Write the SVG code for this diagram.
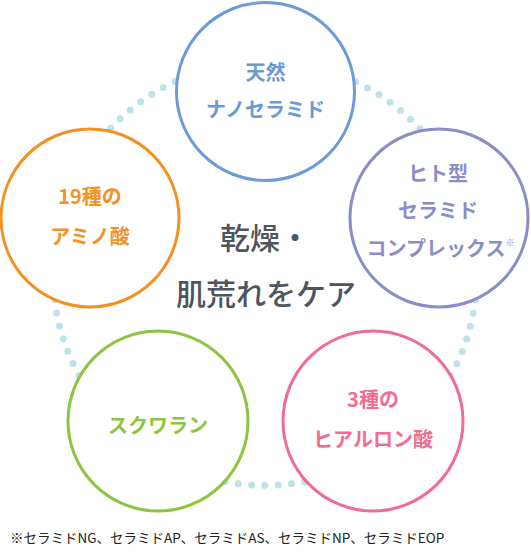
<svg xmlns="http://www.w3.org/2000/svg" width="531" height="554" viewBox="0 0 531 554">
<style>
.ring{fill:#fff;stroke-width:3}
.lbl{font-family:"Noto Sans CJK JP","Noto Sans",sans-serif;font-weight:700;font-size:20px;text-anchor:middle}
.ctr{font-family:"Noto Sans CJK JP","Noto Sans",sans-serif;font-weight:500;font-size:30px;text-anchor:middle;fill:#4d555e}
.note{font-family:"Noto Sans CJK JP","Noto Sans",sans-serif;font-size:13.5px;fill:#222}
</style>
<rect width="531" height="554" fill="#fff"/>
<g id="connectors">
<circle cx="265" cy="273.5" r="212" fill="none" stroke="#bde3e8" stroke-width="7" stroke-linecap="round" stroke-dasharray="0 13.3204"/>
</g>
<g id="center">
<text class="ctr" x="265" y="249">乾燥・</text>
<text class="ctr" x="266" y="305">肌荒れをケア</text>
</g>
<g id="nano">
<circle class="ring" cx="265.5" cy="91.5" r="89" stroke="#6c9bd6"/>
<text class="lbl" x="265.5" y="80" fill="#6a9ad6">天然</text>
<text class="lbl" x="265.5" y="117" fill="#6a9ad6">ナノセラミド</text>
</g>
<g id="human">
<circle class="ring" cx="439" cy="218" r="89" stroke="#8b8dc8"/>
<text class="lbl" x="438" y="181" fill="#8b8dc8">ヒト型</text>
<text class="lbl" x="438" y="218" fill="#8b8dc8">セラミド</text>
<text class="lbl" x="436" y="256" fill="#8b8dc8">コンプレックス</text>
<text x="510" y="246" font-family="Noto Sans CJK JP,sans-serif" font-size="9" text-anchor="middle" fill="#8b8dc8">※</text>
</g>
<g id="amino">
<circle class="ring" cx="90" cy="218" r="89" stroke="#f39224"/>
<text class="lbl" x="90" y="204" fill="#f39224">19種の</text>
<text class="lbl" x="90" y="244" fill="#f39224">アミノ酸</text>
</g>
<g id="squalane">
<circle class="ring" cx="158" cy="421" r="90" stroke="#8dc440"/>
<text class="lbl" x="158" y="433" fill="#8dc440">スクワラン</text>
</g>
<g id="hyaluron">
<circle class="ring" cx="373" cy="421" r="90" stroke="#ee6d91"/>
<text class="lbl" x="373" y="407" fill="#ee6d91">3種の</text>
<text class="lbl" x="373" y="447" fill="#ee6d91">ヒアルロン酸</text>
</g>
<text class="note" x="10" y="543">※セラミドNG、セラミドAP、セラミドAS、セラミドNP、セラミドEOP</text>
</svg>
